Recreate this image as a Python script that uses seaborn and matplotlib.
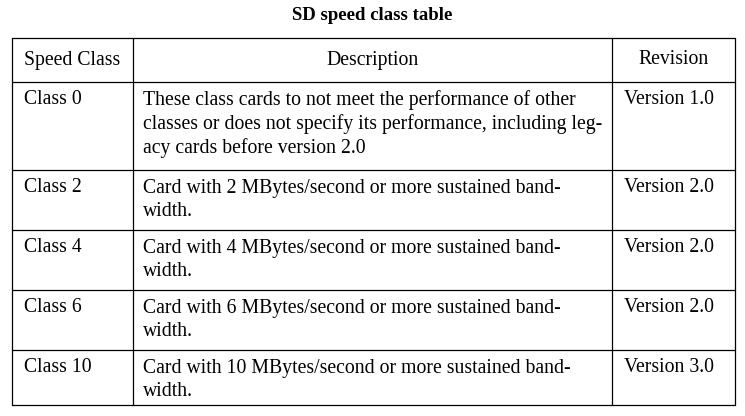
import matplotlib.pyplot as plt
import seaborn as sns

sns.set_theme(style="white")

title = "SD speed class table"
headers = ["Speed Class", "Description", "Revision"]
speed_classes = ["Class 0", "Class 2", "Class 4", "Class 6", "Class 10"]
descriptions = [
    ["These class cards to not meet the performance of other",
     "classes or does not specify its performance, including leg-",
     "acy cards before version 2.0"],
    ["Card with 2 MBytes/second or more sustained band-", "width."],
    ["Card with 4 MBytes/second or more sustained band-", "width."],
    ["Card with 6 MBytes/second or more sustained band-", "width."],
    ["Card with 10 MBytes/second or more sustained band-", "width."],
]
revisions = ["Version 1.0", "Version 2.0", "Version 2.0", "Version 2.0", "Version 3.0"]

# table grid in pixel coords
col_edges = [12, 133, 612, 735]
row_edges = [38, 82, 170, 230, 290, 350, 405]
text_x = [24, 143, 624]
line_h = 24

fig = plt.figure(figsize=(7.45, 4.16), dpi=100)
ax = fig.add_axes([0, 0, 1, 1])
ax.set_xlim(0, 745)
ax.set_ylim(416, 0)
ax.axis("off")

font = dict(family="Liberation Serif", fontsize=14.2, color="black")

ax.text(372, 16, title, ha="center", va="center", fontweight="bold",
        family="Liberation Serif", fontsize=13.5, color="black")

for y in row_edges:
    ax.plot([col_edges[0], col_edges[-1]], [y, y], color="black", lw=0.9)
for x in col_edges:
    ax.plot([x, x], [row_edges[0], row_edges[-1]], color="black", lw=0.9)

# header
hy = (row_edges[0] + row_edges[1]) / 2
for i, h in enumerate(headers):
    cx = (col_edges[i] + col_edges[i + 1]) / 2
    ax.text(cx, hy, h, ha="center", va="center", **font)

# body rows
for r in range(len(speed_classes)):
    y0 = row_edges[r + 1] + 18
    ax.text(text_x[0], y0, speed_classes[r], ha="left", va="center", **font)
    for j, line in enumerate(descriptions[r]):
        ax.text(text_x[1], y0 + j * line_h, line, ha="left", va="center", **font)
    ax.text(text_x[2], y0, revisions[r], ha="left", va="center", **font)

fig.savefig("out.png", dpi=100, facecolor="white")
